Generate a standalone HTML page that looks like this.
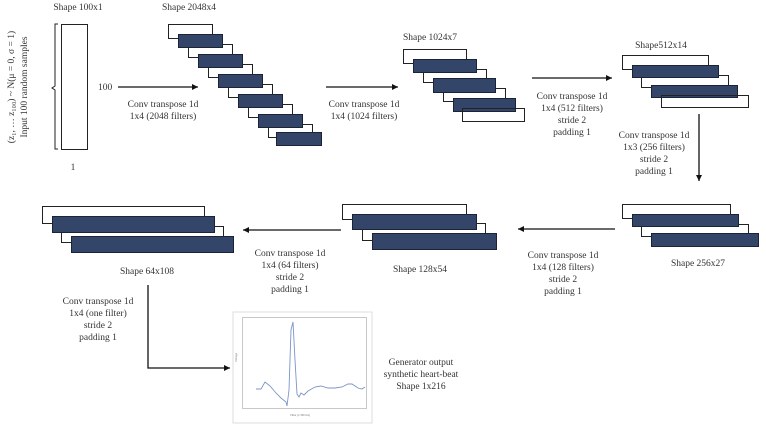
<!DOCTYPE html>
<html><head><meta charset="utf-8"><style>
html,body{margin:0;padding:0;background:#fff;}
svg{display:block;}
text{font-family:"Liberation Serif",serif;font-size:9.5px;fill:#333;}
.o{fill:none;stroke:#222;stroke-width:1;}
.f{fill:#33466a;stroke:#1a2436;stroke-width:1;}
.l{stroke:#111;stroke-width:1.3;fill:none;}
</style></head><body>
<svg width="766" height="438" viewBox="0 0 766 438" xmlns="http://www.w3.org/2000/svg">
<defs><marker id="a" markerWidth="8" markerHeight="8" refX="6" refY="3" orient="auto" markerUnits="userSpaceOnUse"><path d="M0,0 L6,3 L0,6 z" fill="#111"/></marker></defs>

<!-- input -->
<text x="78" y="10" text-anchor="middle">Shape 100x1</text>
<rect x="61.5" y="24.5" width="26" height="125" fill="#fff" stroke="#222"/>
<path d="M58,24 L55,24 L55,86 L52,88 L55,90 L55,149 L58,149" fill="none" stroke="#222"/>
<text x="98" y="90">100</text>
<text x="73" y="170" text-anchor="middle">1</text>
<text transform="translate(14,87) rotate(-90)" text-anchor="middle">(z₁, … z₁₀₀) ~ N(μ = 0, σ = 1)</text>
<text transform="translate(27,87) rotate(-90)" text-anchor="middle">Input 100 random samples</text>

<!-- stack 2048x4 -->
<text x="189" y="10" text-anchor="middle">Shape 2048x4</text>
<rect class="o" x="168.5" y="24.5" width="44" height="14"/>
<rect class="o" x="188.5" y="44.5" width="44" height="13"/>
<rect class="o" x="208.5" y="64.5" width="44" height="13"/>
<rect class="o" x="228.5" y="84.5" width="44" height="13"/>
<rect class="o" x="248.5" y="104.5" width="44" height="13"/>
<rect class="o" x="268.5" y="124.5" width="44" height="13"/>
<rect class="f" x="178.5" y="34.5" width="44" height="13"/>
<rect class="f" x="198.5" y="54.5" width="44" height="13"/>
<rect class="f" x="218.5" y="74.5" width="44" height="13"/>
<rect class="f" x="238.5" y="94.5" width="44" height="13"/>
<rect class="f" x="258.5" y="114.5" width="44" height="13"/>
<rect class="f" x="276.5" y="132.5" width="45" height="13"/>

<path class="l" d="M118,87 H198" marker-end="url(#a)"/>
<text x="163" y="107" text-anchor="middle">Conv transpose 1d</text>
<text x="163" y="119" text-anchor="middle">1x4 (2048 filters)</text>

<path class="l" d="M326,87 H398" marker-end="url(#a)"/>
<text x="364" y="107" text-anchor="middle">Conv transpose 1d</text>
<text x="364" y="119" text-anchor="middle">1x4 (1024 filters)</text>

<!-- 1024x7 -->
<text x="430" y="40" text-anchor="middle">Shape 1024x7</text>
<rect class="o" x="403.5" y="49.5" width="63" height="14"/>
<rect class="o" x="423.5" y="69.5" width="63" height="13"/>
<rect class="o" x="443.5" y="88.5" width="62" height="13"/>
<rect class="f" x="413.5" y="59.5" width="63" height="13"/>
<rect class="f" x="433.5" y="78.5" width="62" height="14"/>
<rect class="f" x="453.5" y="98.5" width="62" height="13"/>
<rect class="o" x="462.5" y="108.5" width="62" height="13"/>

<path class="l" d="M532,78 H612" marker-end="url(#a)"/>
<text x="572" y="99" text-anchor="middle">Conv transpose 1d</text>
<text x="572" y="111" text-anchor="middle">1x4 (512 filters)</text>
<text x="572" y="123" text-anchor="middle">stride 2</text>
<text x="572" y="135" text-anchor="middle">padding 1</text>

<!-- 512x14 -->
<text x="661" y="48" text-anchor="middle">Shape512x14</text>
<rect class="o" x="622.5" y="55.5" width="86" height="14"/>
<rect class="o" x="641.5" y="75.5" width="87" height="12"/>
<rect class="f" x="632.5" y="65.5" width="86" height="12"/>
<rect class="f" x="651.5" y="85.5" width="86" height="12"/>
<rect class="o" x="661.5" y="95.5" width="87" height="12"/>

<path class="l" d="M699,114 V181" marker-end="url(#a)"/>
<text x="654" y="138" text-anchor="middle">Conv transpose 1d</text>
<text x="654" y="150" text-anchor="middle">1x3 (256 filters)</text>
<text x="654" y="162" text-anchor="middle">stride 2</text>
<text x="654" y="174" text-anchor="middle">padding 1</text>

<!-- 256x27 -->
<rect class="o" x="622.5" y="204.5" width="108" height="14"/>
<rect class="o" x="641.5" y="224.5" width="107" height="12"/>
<rect class="f" x="632.5" y="214.5" width="106" height="12"/>
<rect class="f" x="651.5" y="233.5" width="107" height="13"/>
<text x="698" y="266" text-anchor="middle">Shape 256x27</text>

<path class="l" d="M615,229 H518" marker-end="url(#a)"/>
<text x="563" y="258" text-anchor="middle">Conv transpose 1d</text>
<text x="563" y="270" text-anchor="middle">1x4 (128 filters)</text>
<text x="563" y="282" text-anchor="middle">stride 2</text>
<text x="563" y="294" text-anchor="middle">padding 1</text>

<!-- 128x54 -->
<rect class="o" x="342.5" y="204.5" width="124" height="15"/>
<rect class="o" x="362.5" y="223.5" width="123" height="17"/>
<rect class="f" x="352.5" y="214.5" width="124" height="15"/>
<rect class="f" x="372.5" y="233.5" width="124" height="16"/>
<text x="420" y="272" text-anchor="middle">Shape 128x54</text>

<path class="l" d="M341,230 H243" marker-end="url(#a)"/>
<text x="290" y="256" text-anchor="middle">Conv transpose 1d</text>
<text x="290" y="268" text-anchor="middle">1x4 (64 filters)</text>
<text x="290" y="280" text-anchor="middle">stride 2</text>
<text x="290" y="292" text-anchor="middle">padding 1</text>

<!-- 64x108 -->
<rect class="o" x="42.5" y="206.5" width="162" height="17"/>
<rect class="o" x="61.5" y="226.5" width="162" height="16"/>
<rect class="f" x="52.5" y="216.5" width="162" height="16"/>
<rect class="f" x="71.5" y="236.5" width="162" height="16"/>
<text x="147" y="274" text-anchor="middle">Shape 64x108</text>

<path class="l" d="M148,285 V368 H230" marker-end="url(#a)"/>
<text x="98" y="304" text-anchor="middle">Conv transpose 1d</text>
<text x="98" y="316" text-anchor="middle">1x4 (one filter)</text>
<text x="98" y="328" text-anchor="middle">stride 2</text>
<text x="98" y="340" text-anchor="middle">padding 1</text>

<!-- chart -->
<rect x="233" y="312" width="139" height="111" fill="#fff" stroke="#ddd"/>
<rect x="242.5" y="317.5" width="124" height="91" fill="none" stroke="#bbb" stroke-width="0.8"/>
<text x="237" y="362" transform="rotate(-90 237 362)" style="font-size:3px;fill:#777">Voltage</text>
<text x="290" y="416" style="font-size:3px;fill:#777">Time (1/360 ms)</text>
<path d="M256,389 L261,389 L265,382 L270,386 L276,393 L281,398 L286,402 L287,406 L289,390 L291,330 L293,322 L295,360 L297,394 L299,397 L301,393 L304,395 L308,391 L315,387 L321,386 L328,388 L335,388 L342,387 L348,384 L352,384 L358,388 L362,389 L365,387" fill="none" stroke="#7a95c8" stroke-width="0.9"/>

<text x="421" y="365" text-anchor="middle">Generator output</text>
<text x="421" y="377" text-anchor="middle">synthetic heart-beat</text>
<text x="421" y="389" text-anchor="middle">Shape 1x216</text>
</svg>
</body></html>
